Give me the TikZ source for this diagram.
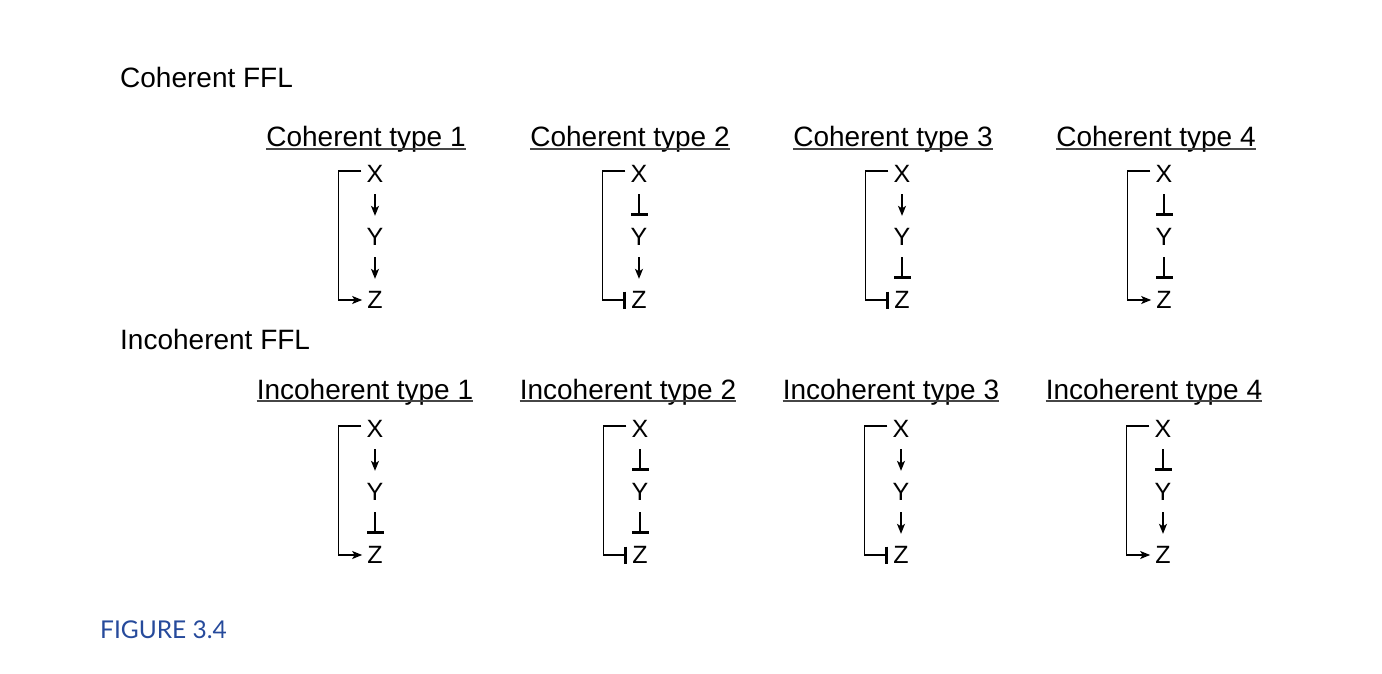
\documentclass[tikz,border=0pt]{standalone}
\usepackage{fontspec}
\setmainfont{Liberation Sans}
\newfontfamily\figfont{Lato}
\usepackage{xcolor}
\usepackage{tikz}
\usetikzlibrary{positioning}
\usetikzlibrary{arrows.meta}
\definecolor{figblue}{RGB}{38,74,155}
\definecolor{linegray}{RGB}{70,70,70}
\tikzset{	node distance=63pt,
	gene/.style={
		inner sep=0pt,
		font=\fontsize{25}{26}\selectfont,
		text height=17.9pt,
		text depth=0pt},
	head/.style={
		inner sep=0pt,
		anchor=base,
		font=\fontsize{28}{30}\selectfont},
	group/.style={
		inner sep=0pt,
		anchor=base west,
		font=\fontsize{28}{30}\selectfont},
	uline/.style={
		draw=linegray,
		line width=1.5pt},
	link/.style={
		line width=1.3pt,
		shorten <=11pt,
		shorten >=12pt},
	side/.style={
		line width=1.3pt,
		shorten <=5pt,
		shorten >=5pt},
	act/.style={-{Stealth[length=10pt,width=8pt,inset=2.5pt]}},
	rep/.style={-{Bar[width=17pt,line width'=3pt]}}
}

\begin{document}
\begin{tikzpicture}[x=1pt,y=-1pt]
	\useasboundingbox (0,0) rectangle (1382,674);
	
	\node[group] (coh) at (120,88) {Coherent FFL};
	\node[group] (inc) at (120,349) {Incoherent FFL};
	\node[inner sep=0pt, anchor=base west, text=figblue, font=\figfont\fontsize{24.5}{26}\selectfont] (fig) at (100,638) {FIGURE 3.4};
	
	\node[head] (h1) at (366,147) {Coherent type 1};
	\node[head] (h2) at (630,147) {Coherent type 2};
	\node[head] (h3) at (893,147) {Coherent type 3};
	\node[head] (h4) at (1156,147) {Coherent type 4};
	\node[head] (h5) at (365,399) {Incoherent type 1};
	\node[head] (h6) at (628,399) {Incoherent type 2};
	\node[head] (h7) at (891,399) {Incoherent type 3};
	\node[head] (h8) at (1154,399) {Incoherent type 4};
	
	\draw[uline] ([yshift=-2pt]h1.base west) -- ([yshift=-2pt]h1.base east);
	\draw[uline] ([yshift=-2pt]h2.base west) -- ([yshift=-2pt]h2.base east);
	\draw[uline] ([yshift=-2pt]h3.base west) -- ([yshift=-2pt]h3.base east);
	\draw[uline] ([yshift=-2pt]h4.base west) -- ([yshift=-2pt]h4.base east);
	\draw[uline] ([yshift=-2pt]h5.base west) -- ([yshift=-2pt]h5.base east);
	\draw[uline] ([yshift=-2pt]h6.base west) -- ([yshift=-2pt]h6.base east);
	\draw[uline] ([yshift=-2pt]h7.base west) -- ([yshift=-2pt]h7.base east);
	\draw[uline] ([yshift=-2pt]h8.base west) -- ([yshift=-2pt]h8.base east);
	
	\node[gene] (x1) at (375,174) {X};
	\node[gene, below of = x1] (y1) {Y};
	\node[gene, below of = y1] (z1) {Z};
	\node[gene] (x2) at (639,174) {X};
	\node[gene, below of = x2] (y2) {Y};
	\node[gene, below of = y2] (z2) {Z};
	\node[gene] (x3) at (902,174) {X};
	\node[gene, below of = x3] (y3) {Y};
	\node[gene, below of = y3] (z3) {Z};
	\node[gene] (x4) at (1164,174) {X};
	\node[gene, below of = x4] (y4) {Y};
	\node[gene, below of = y4] (z4) {Z};
	
	\node[gene] (x5) at (375,429) {X};
	\node[gene, below of = x5] (y5) {Y};
	\node[gene, below of = y5] (z5) {Z};
	\node[gene] (x6) at (640,429) {X};
	\node[gene, below of = x6] (y6) {Y};
	\node[gene, below of = y6] (z6) {Z};
	\node[gene] (x7) at (901,429) {X};
	\node[gene, below of = x7] (y7) {Y};
	\node[gene, below of = y7] (z7) {Z};
	\node[gene] (x8) at (1163,429) {X};
	\node[gene, below of = x8] (y8) {Y};
	\node[gene, below of = y8] (z8) {Z};
	
	\draw[link, act] (x1) -- (y1);
	\draw[link, act] (y1) -- (z1);
	\draw[side, act] ([yshift=3pt]x1.west) -- ++(-28,0) |- (z1.west);
	
	\draw[link, rep] (x2) -- (y2);
	\draw[link, act] (y2) -- (z2);
	\draw[side, rep] ([yshift=3pt]x2.west) -- ++(-28,0) |- (z2.west);
	
	\draw[link, act] (x3) -- (y3);
	\draw[link, rep] (y3) -- (z3);
	\draw[side, rep] ([yshift=3pt]x3.west) -- ++(-28,0) |- (z3.west);
	
	\draw[link, rep] (x4) -- (y4);
	\draw[link, rep] (y4) -- (z4);
	\draw[side, act] ([yshift=3pt]x4.west) -- ++(-28,0) |- (z4.west);
	
	\draw[link, act] (x5) -- (y5);
	\draw[link, rep] (y5) -- (z5);
	\draw[side, act] ([yshift=3pt]x5.west) -- ++(-28,0) |- (z5.west);
	
	\draw[link, rep] (x6) -- (y6);
	\draw[link, rep] (y6) -- (z6);
	\draw[side, rep] ([yshift=3pt]x6.west) -- ++(-28,0) |- (z6.west);
	
	\draw[link, act] (x7) -- (y7);
	\draw[link, act] (y7) -- (z7);
	\draw[side, rep] ([yshift=3pt]x7.west) -- ++(-28,0) |- (z7.west);
	
	\draw[link, rep] (x8) -- (y8);
	\draw[link, act] (y8) -- (z8);
	\draw[side, act] ([yshift=3pt]x8.west) -- ++(-28,0) |- (z8.west);
	
\end{tikzpicture}
\end{document}
